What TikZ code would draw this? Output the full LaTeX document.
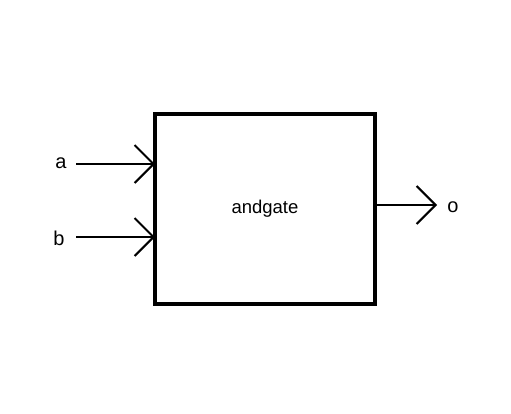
\documentclass[tikz,border=0pt]{standalone}
\usepackage{fontspec}
\setmainfont{Liberation Sans}
\usetikzlibrary{arrows.meta}
\begin{document}
\begin{tikzpicture}[x=1pt,y=-1pt,
  gatebox/.style={draw,line width=4pt,inner sep=0pt,outer sep=0pt,minimum width=220pt,minimum height=190pt,font=\fontsize{18.5}{20}\selectfont},
  portlabel/.style={inner sep=0pt,font=\fontsize{20}{22}\selectfont},
  wire/.style={line width=2pt,-{Straight Barb[length=19pt,width=38pt,line width=2pt]}}]
\useasboundingbox (0,0) rectangle (511,413);
\node[gatebox] (gate) at (265,209) {andgate};
\node[portlabel,anchor=base] (la) at (61,168) {a};
\node[portlabel,anchor=base] (lb) at (59,245) {b};
\node[portlabel,anchor=base] (lo) at (453,212) {o};
\coordinate (ain) at (76,164);
\coordinate (bin) at (76,237);
\coordinate (oout) at (437,205);
\draw[wire] (ain) -- (ain -| gate.west);
\draw[wire] (bin) -- (bin -| gate.west);
\draw[wire] (oout -| gate.east) -- (oout);
\end{tikzpicture}
\end{document}
